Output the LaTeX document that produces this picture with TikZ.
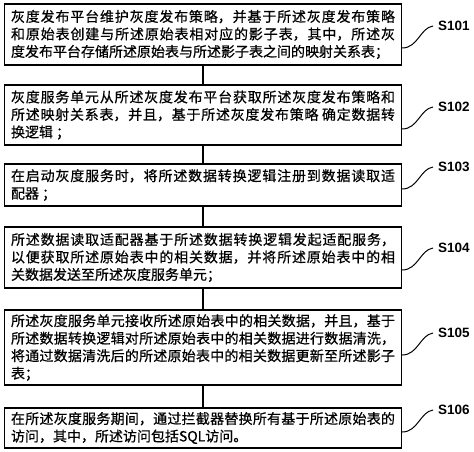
\documentclass[tikz,border=0pt]{standalone}
\usepackage{fontspec}
\newfontfamily\cjk[FakeBold=0.6]{Noto Sans CJK SC}
\newfontfamily\lab{Liberation Sans}
\XeTeXlinebreaklocale "zh"
\XeTeXlinebreakskip=0pt plus 3pt
\begin{document}
\begin{tikzpicture}[x=1bp,y=-1bp,
  stepbox/.style={draw, line width=1.3bp, rectangle, text width=384bp, inner xsep=6.4bp, inner ysep=0bp,
    align=justify, font=\cjk\fontsize{14bp}{17.5bp}\selectfont, anchor=center},
  steplab/.style={font=\lab\bfseries\fontsize{13.5bp}{15bp}\selectfont, anchor=west, inner sep=0bp},
  link/.style={line width=1.3bp},
  tail/.style={line width=1bp}]
\useasboundingbox (0,0) rectangle (474,452);

\node[stepbox, minimum height=61bp] (b1) at (203,34.5) {灰度发布平台维护灰度发布策略，并基于所述灰度发布策略\linebreak 和原始表创建与所述原始表相对应的影子表，其中，所述灰\linebreak 度发布平台存储所述原始表与所述影子表之间的映射关系表；};
\node[stepbox, minimum height=60bp] (b2) at (203,115) {灰度服务单元从所述灰度发布平台获取所述灰度发布策略和\linebreak 所述映射关系表，并且，基于所述灰度发布策略 确定数据转\linebreak 换逻辑 ；};
\node[stepbox, minimum height=42bp] (b3) at (203,185) {在启动灰度服务时，将所述数据转换逻辑注册到数据读取适\linebreak 配器 ；};
\node[stepbox, minimum height=61bp] (b4) at (203,257.5) {所述数据读取适配器基于所述数据转换逻辑发起适配服务，\linebreak 以便获取所述原始表中的相关数据，并将所述原始表中的相\linebreak 关数据发送至所述灰度服务单元；};
\node[stepbox, minimum height=75bp] (b5) at (203,347.5) {所述灰度服务单元接收所述原始表中的相关数据，并且，基于\linebreak 所述数据转换逻辑对所述原始表中的相关数据进行数据清洗，\linebreak 将通过数据清洗后的所述原始表中的相关数据更新至所述影子\linebreak 表；};
\node[stepbox, minimum height=40bp] (b6) at (203,428) {在所述灰度服务期间，通过拦截器替换所有基于所述原始表的\linebreak 访问，其中，所述访问包括SQL访问。};

\draw[link] (b1.south) -- (b2.north);
\draw[link] (b2.south) -- (b3.north);
\draw[link] (b3.south) -- (b4.north);
\draw[link] (b4.south) -- (b5.north);
\draw[link] (b5.south) -- (b6.north);

\foreach \b/\ly/\t in {b1/26/S101, b2/107/S102, b3/167/S103, b4/248/S104, b5/333/S105, b6/410/S106}{
  \node[steplab] (l\b) at (438,\ly) {\t};
  \coordinate (e\b) at (433,\ly);
  \draw[tail] (\b.east |- 0,\ly+22) .. controls (418,\ly+22) and (420,\ly+2) .. (e\b);
}
\end{tikzpicture}
\end{document}
